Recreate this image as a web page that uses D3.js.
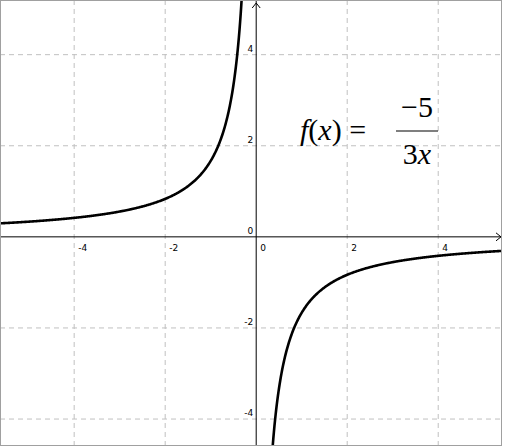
<!DOCTYPE html>
<html><head><meta charset="utf-8">
<script src="https://cdn.jsdelivr.net/npm/d3@7"></script>
<style>body{margin:0;background:#fff}</style>
</head><body>
<script>
// plotted function f(x) = -5/(3x)
let coefA = -5, coefB = 3;
let xTicks = [-4, -2, 2, 4];
let yTicks = [-4, -2, 2, 4];
let xDomain = [-5.63, 5.38], yDomain = [-4.57, 5.2];

let width = 506, height = 448, right = 501, bottom = 445;
var svg = d3.select('body').append('svg').attr('width', width).attr('height', height);

var x = d3.scaleLinear().domain(xDomain).range([0, right]);
var y = d3.scaleLinear().domain(yDomain).range([bottom, 0]);

svg.append('clipPath').attr('id', 'c').append('rect').attr('width', right).attr('height', bottom);

// grid
svg.selectAll('.gx').data(xTicks).enter().append('line')
    .attr('x1', d => x(d)).attr('x2', d => x(d)).attr('y1', 0).attr('y2', bottom)
    .attr('stroke', '#c0c0c0').attr('stroke-dasharray', '5,4');
svg.selectAll('.gy').data(yTicks).enter().append('line')
    .attr('y1', d => y(d)).attr('y2', d => y(d)).attr('x1', 0).attr('x2', right)
    .attr('stroke', '#c0c0c0').attr('stroke-dasharray', '5,4');

// axes
svg.append('line').attr('x1', 0).attr('x2', right).attr('y1', y(0)).attr('y2', y(0)).attr('stroke', '#000');
svg.append('line').attr('x1', x(0)).attr('x2', x(0)).attr('y1', 0).attr('y2', bottom).attr('stroke', '#000');
svg.append('path').attr('d', `M${right-5},${y(0)-4}L${right},${y(0)}L${right-5},${y(0)+4}`).attr('fill', 'none').attr('stroke', '#000');
svg.append('path').attr('d', `M${x(0)-4},${8}L${x(0)},${3}L${x(0)+4},${8}`).attr('fill', 'none').attr('stroke', '#000');

// tick labels
var lab = {'font-family': 'DejaVu Sans, sans-serif', 'font-size': 9, fill: '#000'};
function style(s){ Object.entries(lab).forEach(([k,v]) => s.attr(k, v)); return s; }
style(svg.selectAll('.tx').data(xTicks.concat([0])).enter().append('text')
    .attr('x', d => x(d) + 4).attr('y', y(0) + 14).text(d => d));
style(svg.selectAll('.ty').data(yTicks.concat([0])).enter().append('text')
    .attr('x', x(0) - 3).attr('y', d => y(d) - 3).attr('text-anchor', 'end').text(d => d));

// curve, two branches
var line = d3.line().x(d => x(d[0])).y(d => y(d[1]));
var f = v => coefA / (coefB * v);
[[xDomain[0], -0.3], [0.3, xDomain[1]]].forEach(r => {
    var pts = d3.range(0, 401).map(i => { var v = r[0] + (r[1] - r[0]) * i / 400; return [v, f(v)]; });
    svg.append('path').attr('d', line(pts)).attr('fill', 'none').attr('stroke', '#000')
        .attr('stroke-width', 2.6).attr('clip-path', 'url(#c)');
});

// frame
svg.append('rect').attr('x', 0.5).attr('y', 0.5).attr('width', right).attr('height', bottom)
    .attr('fill', 'none').attr('stroke', '#a0a0a0');

// formula
var g = svg.append('g').attr('font-family', 'Liberation Serif, serif').attr('font-size', 30);
g.append('text').attr('x', 300).attr('y', 140).html('<tspan font-style="italic">f</tspan>(<tspan font-style="italic">x</tspan>) =');
g.append('text').attr('x', 417).attr('y', 117).attr('text-anchor', 'middle').text('−5');
g.append('line').attr('x1', 396).attr('x2', 438).attr('y1', 131).attr('y2', 131).attr('stroke', '#000').attr('stroke-width', 1.2);
g.append('text').attr('x', 417).attr('y', 164).attr('text-anchor', 'middle').html('3<tspan font-style="italic">x</tspan>');
</script>
</body></html>
